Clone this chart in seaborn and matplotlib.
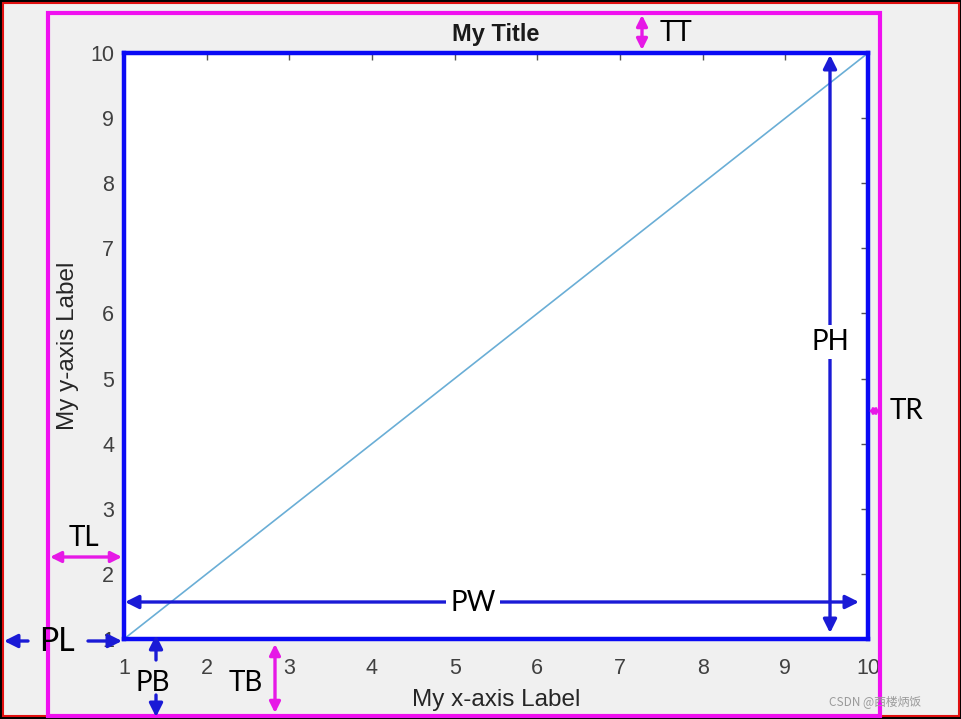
import matplotlib
matplotlib.use("Agg")
import matplotlib.pyplot as plt
import seaborn as sns
import pandas as pd
from matplotlib.patches import Rectangle, FancyArrowPatch

# ---- data ----
x_vals = [1, 2, 3, 4, 5, 6, 7, 8, 9, 10]
y_vals = [1, 2, 3, 4, 5, 6, 7, 8, 9, 10]
x_ticks = [1, 2, 3, 4, 5, 6, 7, 8, 9, 10]
y_ticks = [1, 2, 3, 4, 5, 6, 7, 8, 9, 10]
title = "My Title"
x_label = "My x-axis Label"
y_label = "My y-axis Label"

sns.set_theme(style="white")
plt.rcParams["font.family"] = ["Liberation Sans", "DejaVu Sans"]

W, H = 962, 719
fig = plt.figure(figsize=(W / 100, H / 100), dpi=100, facecolor="#f0f0f0")

# axes box in pixels
L, R, T, B = 124, 868, 53, 639
ax = fig.add_axes([L / W, (H - B) / H, (R - L) / W, (B - T) / H])
ax.set_facecolor("white")

df = pd.DataFrame({"x": x_vals, "y": y_vals})
sns.lineplot(data=df, x="x", y="y", ax=ax, color="#6aaed6", linewidth=1.2)

ax.set_xlim(1, 10)
ax.set_ylim(1, 10)
ax.set_xticks(x_ticks)
ax.set_yticks(y_ticks)
ax.set_xticklabels([str(v) for v in x_ticks])
ax.set_yticklabels([str(v) for v in y_ticks])
for s in ax.spines.values():
    s.set_color("#0a0af5")
    s.set_linewidth(3.2)
ax.tick_params(axis="both", direction="in", length=5, width=1, color="#555555",
               top=True, right=True, labelsize=15.5, labelcolor="#404040")
ax.tick_params(axis="x", pad=14)
ax.tick_params(axis="y", pad=7)

ax.set_xlabel(x_label, fontsize=17.5, color="#262626")
ax.set_ylabel(y_label, fontsize=17.5, color="#262626")
ax.xaxis.set_label_coords(0.5, (B - 700) / (B - T))
ax.yaxis.set_label_coords((68 - L) / (R - L), 0.5)
ax.xaxis.label.set_va("center")
ax.yaxis.label.set_va("center")
ax.set_title(title, fontsize=17, fontweight="bold", color="#1a1a1a",
             y=(B - 35) / (B - T), va="center", pad=0)


def P(px, py):
    return (px / W, 1 - py / H)


# outer border
fig.patches.append(Rectangle((0, 0), 1, 1, transform=fig.transFigure, fill=False,
                             edgecolor="black", linewidth=3, zorder=10))
fig.patches.append(Rectangle(P(3, H - 3), (W - 6) / W, (H - 6) / H, transform=fig.transFigure,
                             fill=False, edgecolor="#e01010", linewidth=1.5, zorder=10))
# magenta rectangle
fig.patches.append(Rectangle(P(48, 716), (880 - 48) / W, (716 - 13) / H, transform=fig.transFigure,
                             fill=False, edgecolor="#f010f0", linewidth=3, zorder=10))

MAG = "#e619e6"
BLU = "#1a1ad6"


def arrow(x0, y0, x1, y1, color, style="<|-|>", lw=2.4, ms=20):
    a = FancyArrowPatch(P(x0, y0), P(x1, y1), transform=fig.transFigure,
                        arrowstyle=style, mutation_scale=ms, color=color,
                        linewidth=lw, shrinkA=0, shrinkB=0, zorder=12)
    fig.patches.append(a)


def label(px, py, s, size=20, bg=None):
    kw = {}
    if bg:
        kw["bbox"] = dict(boxstyle="square,pad=0.15", facecolor=bg, edgecolor="none")
    fig.text(px / W, 1 - py / H, s, ha="center", va="center", fontsize=size,
             family=["Lato", "DejaVu Sans"], color="black", zorder=13, **kw)


# magenta (T*) arrows
arrow(642, 15, 642, 50, MAG, ms=16)
label(676, 33, "TT")
arrow(868, 411, 881, 411, MAG, ms=9, lw=2)
label(907, 411, "TR")
arrow(50, 557, 122, 557, MAG, ms=16)
label(84, 538, "TL")
arrow(275, 644, 275, 713, MAG, ms=16)
label(246, 683, "TB")

# blue (P*) arrows
arrow(28, 641, 4, 641, BLU, style="-|>")
arrow(88, 641, 122, 641, BLU, style="-|>")
label(57, 642, "PL", size=23)
arrow(156, 660, 156, 635, BLU, style="-|>")
arrow(156, 695, 156, 717, BLU, style="-|>")
label(153, 683, "PB")
arrow(125, 602, 859, 602, BLU)
label(473, 603, "PW", bg="white")
arrow(830, 55, 830, 633, BLU)
label(830, 342, "PH", bg="white")

# watermark
fig.text(875 / W, 1 - 702 / H, "CSDN @西楼炳饭", ha="center", va="center", fontsize=8.5,
         color="#9a9a9a", family=["Noto Sans CJK SC", "DejaVu Sans"], zorder=14)

fig.savefig("out.png", dpi=100, facecolor=fig.get_facecolor())
